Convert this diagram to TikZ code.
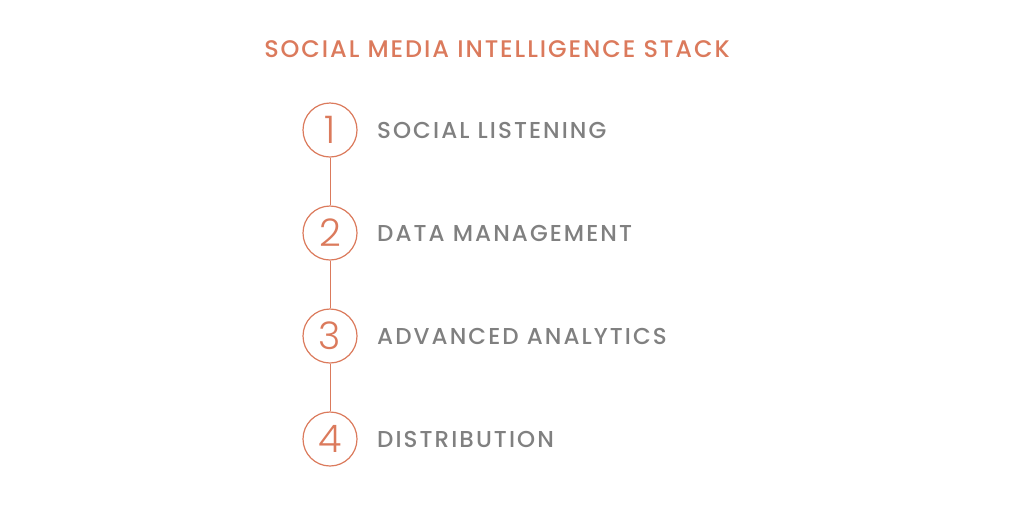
\documentclass[tikz,border=0pt]{standalone}
\usepackage{fontspec}
\setmainfont{Poppins}
\newfontfamily\stacklabelfont{Poppins}[UprightFont=* Medium, LetterSpace=9]
\newfontfamily\stacktitlefont{Poppins}[UprightFont=* Medium, LetterSpace=8]
\newfontfamily\stackdigitfont{Poppins}[UprightFont=* Light]
\usetikzlibrary{positioning}
\definecolor{stackorange}{HTML}{DB7A5C}
\definecolor{stackgray}{HTML}{808080}
\tikzset{
  num/.style={circle, draw=stackorange, text=stackorange, line width=1.2pt, minimum size=54pt, inner sep=0pt, font=\stackdigitfont\fontsize{38}{38}\selectfont},
  lbl/.style={anchor=west, text=stackgray, font=\stacklabelfont\fontsize{23}{24}\selectfont, inner sep=0pt},
}
\begin{document}
\begin{tikzpicture}[x=1pt,y=-1pt,node distance=103pt,on grid]
  \useasboundingbox (0,0) rectangle (1024,512);
  \node[text=stackorange, font=\stacktitlefont\fontsize{24}{24}\selectfont] (title) at (497,49) {SOCIAL MEDIA INTELLIGENCE STACK};
  \node[num] (s_1) at (330,130) {1};
  \node[num] [below=of s_1] (s_2) {2};
  \node[num] [below=of s_2] (s_3) {3};
  \node[num] [below=of s_3] (s_4) {4};
  \node[lbl] (l_1) at (377,130) {SOCIAL LISTENING};
  \node[lbl] (l_2) at (377,233) {DATA MANAGEMENT};
  \node[lbl] (l_3) at (377,336) {ADVANCED ANALYTICS};
  \node[lbl] (l_4) at (377,439) {DISTRIBUTION};
  \draw[stackorange, line width=1pt] (s_1) -- (s_2) (s_2) -- (s_3) (s_3) -- (s_4);
\end{tikzpicture}
\end{document}
